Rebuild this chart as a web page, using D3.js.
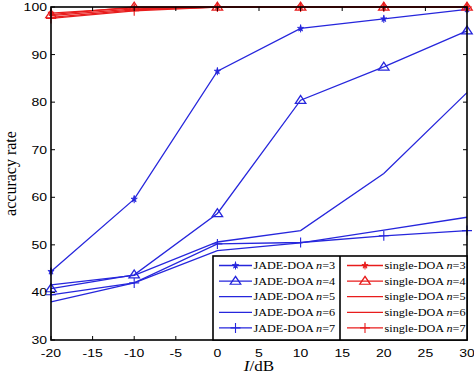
<!DOCTYPE html>
<html>
<head>
<meta charset="utf-8">
<script src="https://cdn.jsdelivr.net/npm/d3@7/dist/d3.min.js"></script>
<style>
  body { margin: 0; background: #fff; }
  svg { display: block; }
</style>
</head>
<body>
<div id="chart"></div>
<script>
// data
var snr = [-20, -10, 0, 10, 20, 30];
var jade3 = [44.4, 59.6, 86.5, 95.5, 97.5, 99.5];
var jade4 = [40.8, 43.7, 56.6, 80.4, 87.4, 95.0];
var jade5 = [41.6, 43.6, 50.6, 53.0, 65.0, 82.0];
var jade6 = [38.0, 42.0, 48.8, 50.4, 53.1, 55.8];
var jade7 = [39.5, 42.0, 50.2, 50.5, 51.9, 53.0];
var single3 = [98.7, 99.8, 100, 100, 100, 100];
var single4 = [98.4, 100, 100, 100, 100, 100];
var single5 = [98.2, 99.6, 100, 100, 100, 100];
var single6 = [97.8, 99.4, 100, 100, 100, 100];
var single7 = [97.6, 99.2, 100, 100, 100, 100];
var xTicks = [-20, -15, -10, -5, 0, 5, 10, 15, 20, 25, 30];
var yTicks = [30, 40, 50, 60, 70, 80, 90, 100];

var W = 474, H = 386;
var mLeft = 51, mRight = 467, mTop = 7, mBottom = 340;
var blue = "#2626dc", red = "#e81c1c";
var sx = 1.22; // the figure is a bit wider than tall

var series = [
  {name: "JADE-DOA", n: 3, vals: jade3, color: blue, mark: "star"},
  {name: "JADE-DOA", n: 4, vals: jade4, color: blue, mark: "tri"},
  {name: "JADE-DOA", n: 5, vals: jade5, color: blue, mark: null},
  {name: "JADE-DOA", n: 6, vals: jade6, color: blue, mark: null},
  {name: "JADE-DOA", n: 7, vals: jade7, color: blue, mark: "plus"},
  {name: "single-DOA", n: 3, vals: single3, color: red, mark: "star"},
  {name: "single-DOA", n: 4, vals: single4, color: red, mark: "tri"},
  {name: "single-DOA", n: 5, vals: single5, color: red, mark: null},
  {name: "single-DOA", n: 6, vals: single6, color: red, mark: null},
  {name: "single-DOA", n: 7, vals: single7, color: red, mark: "plus"}
];

var x = d3.scaleLinear().domain([-20, 30]).range([mLeft, mRight]);
var y = d3.scaleLinear().domain([30, 100]).range([mBottom, mTop]);

var svg = d3.select("#chart").append("svg")
  .attr("width", W).attr("height", H);

function drawMark(g, kind, cx, cy, color) {
  if (kind === "star") {
    g.append("path")
      .attr("d", d3.symbol().type(d3.symbolStar).size(12)())
      .attr("transform", "translate(" + cx + "," + cy + ")")
      .attr("fill", color).attr("stroke", color).attr("stroke-width", 0.8);
    g.append("line")
      .attr("x1", cx).attr("x2", cx).attr("y1", cy - 4).attr("y2", cy + 4)
      .attr("stroke", color).attr("stroke-width", 1);
  } else if (kind === "tri") {
    g.append("path")
      .attr("d", d3.symbol().type(d3.symbolTriangle).size(36)())
      .attr("transform", "translate(" + cx + "," + (cy + 0.5) + ") scale(1.15,1)")
      .attr("fill", "none").attr("stroke", color).attr("stroke-width", 1.2);
  } else if (kind === "plus") {
    g.append("path")
      .attr("d", "M" + (cx - 5) + "," + cy + "H" + (cx + 5) + "M" + cx + "," + (cy - 5) + "V" + (cy + 5))
      .attr("stroke", color).attr("stroke-width", 1.1);
  }
}

var line = d3.line()
  .x(function(d, i) { return x(snr[i]); })
  .y(function(d) { return y(d); });

var plot = svg.append("g");
series.forEach(function(s) {
  plot.append("path")
    .datum(s.vals)
    .attr("d", line)
    .attr("fill", "none")
    .attr("stroke", s.color)
    .attr("stroke-width", 1.3);
  if (s.mark) {
    s.vals.forEach(function(v, i) {
      drawMark(plot, s.mark, x(snr[i]), y(v), s.color);
    });
  }
});

// frame + inward ticks on all sides
var axes = svg.append("g").attr("stroke", "#000");
axes.append("rect")
  .attr("x", mLeft).attr("y", mTop)
  .attr("width", mRight - mLeft).attr("height", mBottom - mTop)
  .attr("fill", "none").attr("stroke-width", 1.6);
xTicks.forEach(function(t) {
  axes.append("line").attr("x1", x(t)).attr("x2", x(t)).attr("y1", mBottom).attr("y2", mBottom - 4).attr("stroke-width", 1);
  axes.append("line").attr("x1", x(t)).attr("x2", x(t)).attr("y1", mTop).attr("y2", mTop + 4).attr("stroke-width", 1);
});
yTicks.forEach(function(t) {
  axes.append("line").attr("x1", mLeft).attr("x2", mLeft + 4).attr("y1", y(t)).attr("y2", y(t)).attr("stroke-width", 1);
  axes.append("line").attr("x1", mRight).attr("x2", mRight - 4).attr("y1", y(t)).attr("y2", y(t)).attr("stroke-width", 1);
});

function label(px, py, str, opts) {
  var t = svg.append("text")
    .attr("transform", "translate(" + px + "," + py + ") scale(" + (opts.sx || sx) + ",1)" + (opts.rot ? " rotate(" + opts.rot + ")" : ""))
    .attr("font-family", opts.family || "Liberation Sans, Arial, sans-serif")
    .attr("font-size", opts.size)
    .attr("text-anchor", opts.anchor || "start")
    .attr("fill", "#000");
  if (str !== null) t.text(str);
  return t;
}

yTicks.forEach(function(t) {
  label(47, y(t) + 4, String(t), {size: 11.5, anchor: "end"});
});
xTicks.forEach(function(t) {
  label(x(t), 357, String(t), {size: 11.5, anchor: "middle"});
});

// axis titles
label(16, (mTop + mBottom) / 2, "accuracy rate", {size: 16, sx: 1, anchor: "middle", rot: -90, family: "Liberation Serif, Times New Roman, serif"});
var xl = label((mLeft + mRight) / 2, 371, null, {size: 14, anchor: "middle", family: "Liberation Serif, Times New Roman, serif"});
xl.append("tspan").attr("font-style", "italic").text("I");
xl.append("tspan").text("/dB");

// legend
var lg = svg.append("g");
var lgLeft = 213, lgTop = 256, lgMid = 340;
lg.append("rect")
  .attr("x", lgLeft).attr("y", lgTop)
  .attr("width", mRight - lgLeft).attr("height", mBottom - lgTop)
  .attr("fill", "#fff").attr("stroke", "#000").attr("stroke-width", 1.6);
lg.append("line")
  .attr("x1", lgMid).attr("x2", lgMid).attr("y1", lgTop).attr("y2", mBottom)
  .attr("stroke", "#000").attr("stroke-width", 1.6);

series.forEach(function(s, k) {
  var col = k < 5 ? 0 : 1;
  var row = k % 5;
  var cy = 265.5 + row * 15.6;
  var x0 = col === 0 ? 219 : 347;
  var x1 = col === 0 ? 252 : 383;
  lg.append("line")
    .attr("x1", x0).attr("x2", x1).attr("y1", cy).attr("y2", cy)
    .attr("stroke", s.color).attr("stroke-width", 1.3);
  if (s.mark) drawMark(lg, s.mark, (x0 + x1) / 2, cy, s.color);
  var t = label(x1 + 1.5, cy + 3.6, null, {size: 10, family: "Liberation Serif, Times New Roman, serif"});
  t.append("tspan").text(s.name + " ");
  t.append("tspan").attr("font-style", "italic").text("n");
  t.append("tspan").text("=" + s.n);
});
</script>
</body>
</html>
